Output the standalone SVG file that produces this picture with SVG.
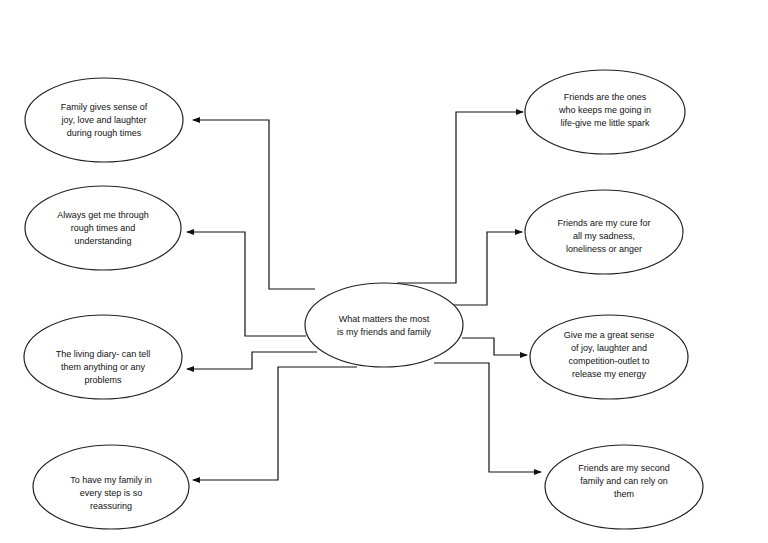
<svg xmlns="http://www.w3.org/2000/svg" width="768" height="543" viewBox="0 0 768 543">
<style>
.n ellipse{fill:#fff;stroke:#222;stroke-width:1.2}
.n text{font-family:"Liberation Sans",Arial,sans-serif;font-size:9px;fill:#111;text-anchor:middle}
#connectors polyline{fill:none;stroke:#111;stroke-width:1.2;marker-end:url(#a)}
</style>
<defs><marker id="a" markerWidth="8" markerHeight="6" refX="7" refY="3" orient="auto" markerUnits="userSpaceOnUse"><path d="M0,0L8,3L0,6z" fill="#111"/></marker></defs>
<rect width="768" height="543" fill="#fff"/>
<g id="connectors">
<polyline points="315,289 269,289 269,120 193,120"/>
<polyline points="397,283 456,283 456,112 523,112"/>
<polyline points="306,336 245,336 245,232 187,232"/>
<polyline points="453,305 487,305 487,232 522,232"/>
<polyline points="462,338 494,338 494,355 527,355"/>
<polyline points="317,352 252,352 252,369 187,369"/>
<polyline points="357,367 278,367 278,480 193,480"/>
<polyline points="434,363 489,363 489,472 541,472"/>
</g>
<g id="center" class="n"><ellipse cx="384" cy="325" rx="79" ry="42"/><text x="384" y="322">What matters the most</text><text x="384" y="335">is my friends and family</text></g>
<g id="l1" class="n"><ellipse cx="104" cy="120" rx="79" ry="42"/><text x="104" y="110">Family gives sense of</text><text x="104" y="123">joy, love and laughter</text><text x="104" y="136">during rough times</text></g>
<g id="l2" class="n"><ellipse cx="103" cy="228" rx="78" ry="42"/><text x="103" y="218">Always get me through</text><text x="103" y="231">rough times and</text><text x="103" y="244">understanding</text></g>
<g id="l3" class="n"><ellipse cx="103" cy="357" rx="79" ry="42"/><text x="103" y="357">The living diary- can tell</text><text x="103" y="370">them anything or any</text><text x="103" y="383">problems</text></g>
<g id="l4" class="n"><ellipse cx="111" cy="487" rx="78" ry="42"/><text x="111" y="483">To have my family in</text><text x="111" y="496">every step is so</text><text x="111" y="509">reassuring</text></g>
<g id="r1" class="n"><ellipse cx="605" cy="112" rx="80" ry="42"/><text x="605" y="100">Friends are the ones</text><text x="605" y="113">who keeps me going in</text><text x="605" y="126">life-give me little spark</text></g>
<g id="r2" class="n"><ellipse cx="604" cy="232" rx="79" ry="42"/><text x="604" y="226">Friends are my cure for</text><text x="604" y="239">all my sadness,</text><text x="604" y="252">loneliness or anger</text></g>
<g id="r3" class="n"><ellipse cx="609" cy="357" rx="79" ry="42"/><text x="609" y="338">Give me a great sense</text><text x="609" y="351">of joy, laughter and</text><text x="609" y="364">competition-outlet to</text><text x="609" y="377">release my energy</text></g>
<g id="r4" class="n"><ellipse cx="624" cy="487" rx="79" ry="42"/><text x="624" y="471">Friends are my second</text><text x="624" y="484">family and can rely on</text><text x="624" y="497">them</text></g>
</svg>
